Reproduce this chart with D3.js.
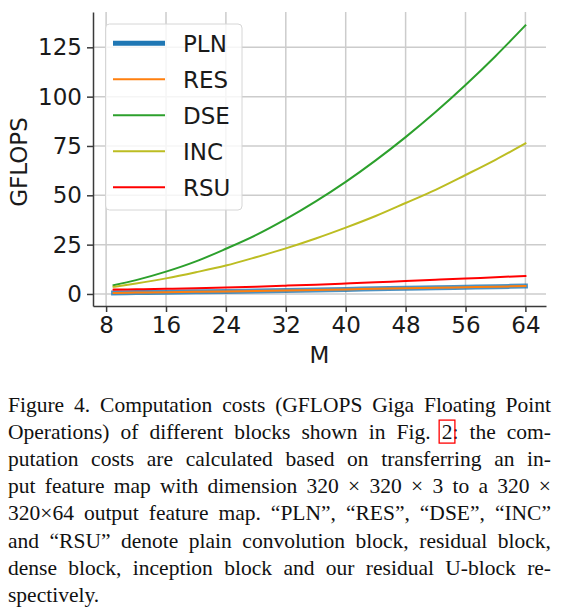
<!DOCTYPE html>
<html>
<head>
<meta charset="utf-8">
<script src="https://cdn.jsdelivr.net/npm/d3@7/dist/d3.min.js"></script>
<style>
  html, body { margin: 0; padding: 0; background: #fff; }
  svg { display: block; }
  .cap text, text.cap { font-family: "Liberation Serif", "Tinos", "Times New Roman", "DejaVu Serif Condensed", "DejaVu Serif", serif; font-stretch: condensed; }
</style>
</head>
<body>
<svg id="chart" width="562" height="611"></svg>
<script>
// ---- data ----
const M   = [9, 12, 16, 20, 24, 28, 32, 36, 40, 44, 48, 52, 56, 60, 64];
const PLN = [0.5, 0.7, 0.9, 1.1, 1.3, 1.55, 1.8, 2.05, 2.3, 2.6, 2.9, 3.15, 3.4, 3.7, 4.0];
const RES = [0.5, 0.7, 0.9, 1.1, 1.3, 1.55, 1.8, 2.05, 2.3, 2.6, 2.9, 3.15, 3.4, 3.7, 4.0];
const DSE = [4.4, 7.0, 11.3, 16.5, 22.9, 29.8, 37.9, 46.9, 56.8, 67.7, 79.5, 92.2, 105.9, 120.5, 136.1];
const INC = [3.6, 5.3, 7.9, 11.0, 14.4, 18.6, 23.1, 28.1, 33.6, 39.5, 46.1, 52.8, 60.3, 68.0, 76.3];
const RSU = [2.2, 2.4, 2.6, 2.9, 3.3, 3.7, 4.2, 4.7, 5.3, 5.9, 6.6, 7.2, 7.8, 8.5, 9.1];
const seriesNames = ["PLN", "RES", "DSE", "INC", "RSU"];
const xTicks = [8, 16, 24, 32, 40, 48, 56, 64];
const yTicks = [0, 25, 50, 75, 100, 125];
const xLabel = "M";
const yLabel = "GFLOPS";
const captionLines = [
  "Figure 4. Computation costs (GFLOPS Giga Floating Point",
  "Operations) of different blocks shown in Fig. 2: the com-",
  "putation costs are calculated based on transferring an in-",
  "put feature map with dimension 320 × 320 × 3 to a 320 ×",
  "320×64 output feature map. “PLN”, “RES”, “DSE”, “INC”",
  "and “RSU” denote plain convolution block, residual block,",
  "dense block, inception block and our residual U-block re-",
  "spectively."
];

// ---- styles ----
const colors = { PLN: "#1f77b4", RES: "#ff7f0e", DSE: "#2ca02c", INC: "#bcbd22", RSU: "#ff0000" };
const widths = { PLN: 5, RES: 2, DSE: 2, INC: 2, RSU: 2 };
const opac = { PLN: 0.8, RES: 1, DSE: 1, INC: 1, RSU: 1 };
const values = { PLN, RES, DSE, INC, RSU };

const svg = d3.select("#chart");
svg.append("rect").attr("width", 562).attr("height", 611).attr("fill", "#fff");

const plot = { left: 93, right: 546, top: 12, bottom: 306 };
const x = d3.scaleLinear().domain([6.25, 66.75]).range([plot.left, plot.right]);
const y = d3.scaleLinear().domain([-6.1, 142.9]).range([plot.bottom, plot.top]);

const tickFont = "'DejaVu Sans', sans-serif";

// grid
const grid = svg.append("g");
grid.selectAll(".gx").data(xTicks).join("line")
  .attr("x1", d => x(d)).attr("x2", d => x(d))
  .attr("y1", plot.top).attr("y2", plot.bottom)
  .attr("stroke", "#cccccc").attr("stroke-width", 1.5);
grid.selectAll(".gy").data(yTicks).join("line")
  .attr("y1", d => y(d)).attr("y2", d => y(d))
  .attr("x1", plot.left).attr("x2", plot.right)
  .attr("stroke", "#cccccc").attr("stroke-width", 1.5);

// lines
const line = d3.line().curve(d3.curveMonotoneX);
seriesNames.forEach(name => {
  const pts = M.map((m, i) => [x(m), y(values[name][i])]);
  svg.append("path")
    .attr("d", line(pts))
    .attr("fill", "none")
    .attr("stroke", colors[name])
    .attr("stroke-width", widths[name])
    .attr("stroke-opacity", opac[name])
    .attr("stroke-linecap", "square");
});

// axes
const xAxis = svg.append("g").attr("transform", `translate(0,${plot.bottom})`)
  .call(d3.axisBottom(x).tickValues(xTicks).tickSize(6).tickSizeOuter(0).tickPadding(5));
const yAxis = svg.append("g").attr("transform", `translate(${plot.left},0)`)
  .call(d3.axisLeft(y).tickValues(yTicks).tickSize(6).tickSizeOuter(0).tickPadding(5));
[xAxis, yAxis].forEach(a => {
  a.select(".domain").attr("stroke", "#3a3a3a").attr("stroke-width", 1.5);
  a.selectAll(".tick line").attr("stroke", "#3a3a3a").attr("stroke-width", 1.5);
  a.selectAll(".tick text").attr("font-family", tickFont).attr("font-size", 23).attr("fill", "#1a1a1a");
});

// axis labels
svg.append("text").attr("x", (plot.left + plot.right) / 2).attr("y", 363)
  .attr("text-anchor", "middle").attr("font-family", tickFont).attr("font-size", 23)
  .attr("fill", "#1a1a1a").text(xLabel);
svg.append("text").attr("transform", `translate(27,${(plot.top + plot.bottom) / 2 + 3}) rotate(-90)`)
  .attr("text-anchor", "middle").attr("font-family", tickFont).attr("font-size", 23)
  .attr("fill", "#1a1a1a").text(yLabel);

// legend
const lg = svg.append("g");
lg.append("rect").attr("x", 105.5).attr("y", 24).attr("width", 136.5).attr("height", 186)
  .attr("rx", 4).attr("fill", "#fff").attr("fill-opacity", 0.8)
  .attr("stroke", "#d6d6d6").attr("stroke-width", 1);
seriesNames.forEach((name, i) => {
  const cy = 43.3 + i * 36;
  lg.append("line").attr("x1", 113).attr("x2", 165).attr("y1", cy).attr("y2", cy)
    .attr("stroke", colors[name]).attr("stroke-width", widths[name]);
  lg.append("text").attr("x", 183).attr("y", cy).attr("dy", "0.36em")
    .attr("font-family", tickFont).attr("font-size", 23).attr("fill", "#1a1a1a").text(name);
});

// caption (justified lines)
const capLeft = 8, capRight = 551;
const baseline0 = 412, lineGap = 27.1;
const measurer = svg.append("text").attr("class", "cap").attr("font-size", 21.5)
  .attr("visibility", "hidden");
function measure(s) { measurer.text(s); return measurer.node().getComputedTextLength(); }
let capSize = 21.5;
const probe = measure("spectively.");
if (probe > 100) capSize = Math.max(19, 21.5 * 96 / probe);
measurer.attr("font-size", capSize);
const spaceW = measure("a a") - measure("aa");
const cap = svg.append("g").attr("class", "cap").attr("font-size", capSize).attr("fill", "#111");
captionLines.forEach((ln, li) => {
  const words = ln.split(" ");
  const ws = words.map(measure);
  const total = d3.sum(ws);
  const last = li === captionLines.length - 1;
  const gap = last ? spaceW : (capRight - capLeft - total) / (words.length - 1);
  let cx = capLeft;
  const by = baseline0 + li * lineGap;
  words.forEach((w, wi) => {
    cap.append("text").attr("x", cx).attr("y", by).text(w);
    if (w === "2:") {
      const w2 = measure("2");
      svg.append("rect").attr("x", cx - 2.5).attr("y", by - 19).attr("width", w2 + 5).attr("height", 23)
        .attr("fill", "none").attr("stroke", "#ff0000").attr("stroke-width", 1.3);
    }
    cx += ws[wi] + gap;
  });
});
measurer.remove();
</script>
</body>
</html>
